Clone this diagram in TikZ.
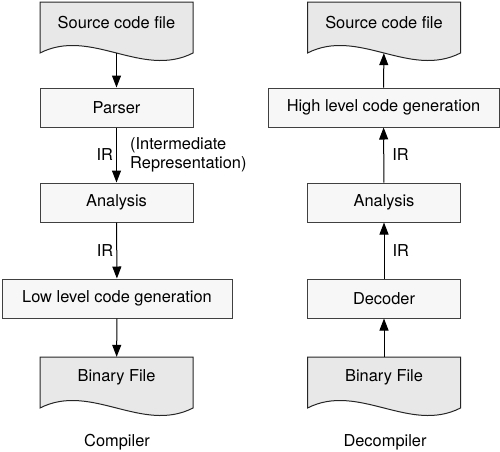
\documentclass[tikz,border=0pt]{standalone}
\usepackage{fontspec}
\setmainfont{TeX Gyre Heros}
\usetikzlibrary{arrows.meta}

\tikzset{
  stagebox/.style={draw=black!75, line width=1pt, fill=black!3, minimum width=153pt,
    minimum height=39pt, inner sep=0pt},
  filedoc/.style={minimum width=153pt, minimum height=51pt, inner sep=0pt},
  docline/.style={draw=black!85, line width=1pt, fill=black!9},
  flow/.style={draw=black, line width=1pt, -{Triangle[length=12pt,width=9pt]}},
}
% file symbol: name, centre x, top y, text
\newcommand{\filedoc}[4]{%
  \path[docline] (#2-76.5,#3) -- (#2+76.5,#3) -- (#2+76.5,#3+51)
    .. controls (#2+25.5,#3+77) and (#2-25.5,#3+25) .. (#2-76.5,#3+51) -- cycle;
  \node (#1) at (#2,#3+25.5)[filedoc] {\raisebox{5pt}[\height][\depth]{#4}};}

\begin{document}
\begin{tikzpicture}[x=1pt, y=-1pt, font=\fontsize{16.4}{19.5}\selectfont]
    \useasboundingbox (0,0) rectangle (500,451);

    % compiler
    \filedoc{srcA}{116.5}{2}{Source code file}
    \node (parser) at (116.5,107.5)[stagebox] {Parser};
    \node (anaA) at (116.5,202.5)[stagebox] {Analysis};
    \node (lowgen) at (117,298.5)[stagebox, minimum width=230pt] {Low level code generation};
    \filedoc{binA}{116.5}{357}{Binary File}
    \node (compiler) at (117,442) {Compiler};

    \draw[flow] (srcA) -- (parser);
    \draw[flow] (parser) -- node[left, inner sep=3pt] {IR} (anaA);
    \node[right, align=left, inner sep=0pt] (irnote) at (130,155)
        {(Intermediate\\Representation)};
    \draw[flow] (anaA) -- node[left, inner sep=3pt] {IR} (lowgen);
    \draw[flow] (lowgen) -- (binA);

    % decompiler
    \filedoc{srcB}{384}{2}{Source code file}
    \node (highgen) at (383.5,107.5)[stagebox, minimum width=231pt] {High level code generation};
    \node (anaB) at (384,202.5)[stagebox] {Analysis};
    \node (decoder) at (384,298.5)[stagebox] {Decoder};
    \filedoc{binB}{384}{357}{Binary File}
    \node (decompiler) at (385,442) {Decompiler};

    \draw[flow] (binB) -- (decoder);
    \draw[flow] (decoder) -- node[right, inner sep=8pt] {IR} (anaB);
    \draw[flow] (anaB) -- node[right, inner sep=8pt] {IR} (highgen);
    \draw[flow] (highgen) -- (srcB);
\end{tikzpicture}
\end{document}
